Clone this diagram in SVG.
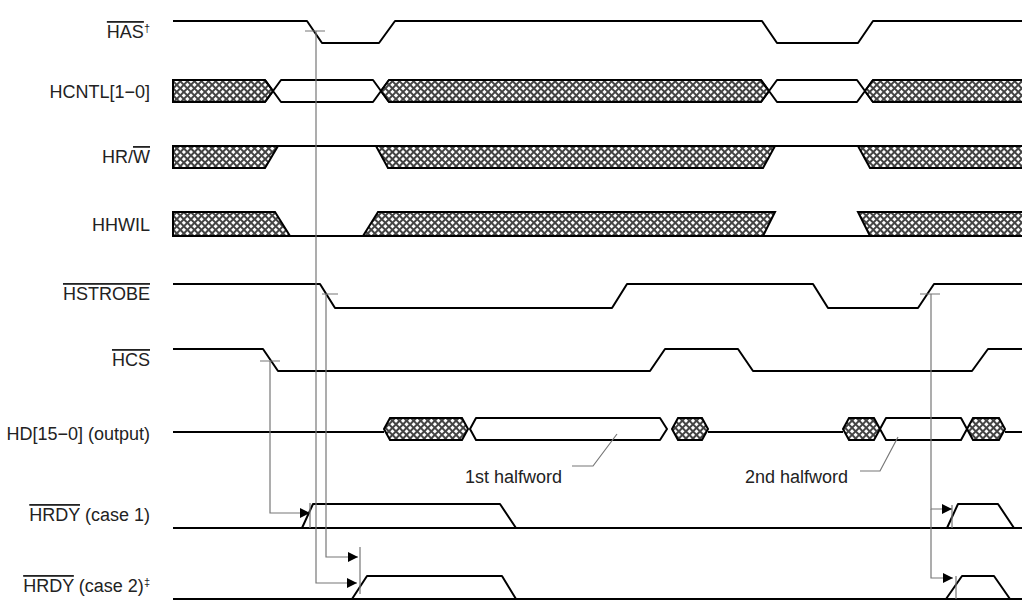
<svg xmlns="http://www.w3.org/2000/svg" width="1032" height="612" viewBox="0 0 1032 612">
<defs>
<pattern id="h" width="5" height="5" patternUnits="userSpaceOnUse" patternTransform="rotate(45)">
<rect width="5" height="5" fill="#444"/><rect x="1" y="1" width="3" height="3" fill="#fff"/>
</pattern>
<marker id="a" viewBox="0 0 10 10" refX="10" refY="5" markerWidth="10" markerHeight="10" markerUnits="userSpaceOnUse" orient="auto"><path d="M0,0L10,5L0,10z" fill="#000"/></marker>
</defs>
<style>
.w{fill:none;stroke:#000;stroke-width:2;stroke-linejoin:round}
.hz{fill:url(#h);stroke:#000;stroke-width:2}
.g{fill:none;stroke:#777;stroke-width:1.2}
.t{font-family:"Liberation Sans",Arial,sans-serif;font-size:18px;fill:#222}
.r{text-anchor:end}
</style>
<rect width="1032" height="612" fill="#fff"/>
<g id="labels" class="t">
<text class="r" x="150" y="38"><tspan text-decoration="overline">HAS</tspan><tspan font-size="11" dy="-6">†</tspan></text>
<text class="r" x="150" y="98">HCNTL[1−0]</text>
<text class="r" x="150" y="163">HR/<tspan text-decoration="overline">W</tspan></text>
<text class="r" x="150" y="231">HHWIL</text>
<text class="r" x="150" y="300" text-decoration="overline">HSTROBE</text>
<text class="r" x="150" y="366" text-decoration="overline">HCS</text>
<text class="r" x="150" y="440">HD[15−0] (output)</text>
<text class="r" x="150" y="521"><tspan text-decoration="overline">HRDY</tspan> (case 1)</text>
<text class="r" x="150" y="592"><tspan text-decoration="overline">HRDY</tspan> (case 2)<tspan font-size="11" dy="-6">‡</tspan></text>
<text x="465" y="483">1st halfword</text>
<text x="745" y="483">2nd halfword</text>
</g>
<g id="HAS"><path class="w" d="M173,21H307L322,43H379L395,21H762L777,43H858L873,21H1022"/></g>
<g id="HCNTL">
<path class="hz" d="M173,80H265L273,91L265,102H173Z"/>
<path class="w" d="M265,80L281,102H373L389,80M265,102L281,80H373L389,102"/>
<path class="hz" d="M389,80H761L769,91L761,102H389L381,91Z"/>
<path class="w" d="M761,80L777,102H857L873,80M761,102L777,80H857L873,102"/>
<path class="hz" d="M1022,80H873L865,91L873,102H1022"/>
</g>
<g id="HRW">
<path class="hz" d="M173,146H278L265,168H173Z"/>
<path class="hz" d="M376,146H775L763,168H388Z"/>
<path class="hz" d="M1022,146H858L870,168H1022"/>
<path class="w" d="M173,146H1022"/>
</g>
<g id="HHWIL">
<path class="hz" d="M173,212H275L290,236H173Z"/>
<path class="hz" d="M378,212H775L763,236H363Z"/>
<path class="hz" d="M1022,212H858L870,236H1022"/>
<path class="w" d="M173,236H1022"/>
</g>
<g id="HSTROBE"><path class="w" d="M173,284H320L335,308H612L627,284H813L828,308H918L934,284H1022"/></g>
<g id="HCS"><path class="w" d="M173,349H263L278,371H650L665,349H738L753,371H972L988,349H1022"/></g>
<g id="HD">
<path class="w" d="M173,432H384M708,432H843M1005,432H1022"/>
<path class="hz" d="M390,418H462L468,429L462,440H390L384,429Z"/>
<path class="w" d="M476,418H660L667,429L660,440H476L470,429Z"/>
<path class="hz" d="M678,418H702L708,429L702,440H678L672,429Z"/>
<path class="hz" d="M849,418H874L880,429L874,440H849L843,429Z"/>
<path class="w" d="M886,418H961L967,429L961,440H886L880,429Z"/>
<path class="hz" d="M973,418H999L1005,429L999,440H973L967,429Z"/>
<path class="g" d="M572,466H593L617,434M860,471H880L898,437"/>
</g>
<g id="HRDY1"><path class="w" d="M173,528H1022M302,528L313,504H500L516,528M947,528L958,504H998L1014,528"/></g>
<g id="HRDY2"><path class="w" d="M173,599H1022M352,599L367,576H502L516,599M946,599L962,576H994L1010,599"/></g>
<g id="connectors">
<path class="g" d="M305,31H325M322,294H338M260,361H280M920,294H940M310,503V528M360,547V594M952,505V528M956,576V599"/>
<path class="g" d="M316,31V583H357" marker-end="url(#a)"/>
<path class="g" d="M326,294V557H358" marker-end="url(#a)"/>
<path class="g" d="M270,361V513H310" marker-end="url(#a)"/>
<path class="g" d="M931,294V509H952" marker-end="url(#a)"/>
<path class="g" d="M931,509V578H953" marker-end="url(#a)"/>
</g>
</svg>
